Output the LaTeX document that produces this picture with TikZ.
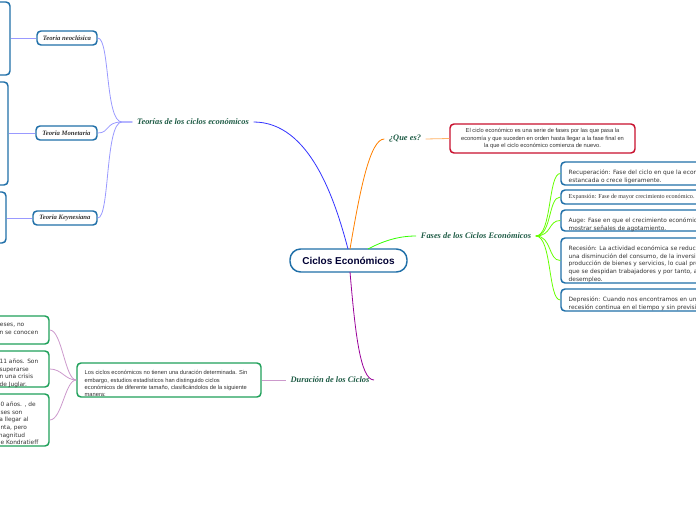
\documentclass[tikz,border=0pt]{standalone}
\usepackage{fontspec}
\setmainfont{Liberation Serif}
\newfontfamily\bxf{DejaVu Sans}
\newfontfamily\arf{Liberation Sans}
\definecolor{tblue}{HTML}{1F6FA8}
\definecolor{lgreen}{HTML}{1E5B45}
\definecolor{gbox}{HTML}{1FA05A}
\definecolor{rbox}{HTML}{C8102E}
\tikzset{
 bx/.style={draw, rounded corners=3pt, line width=1.1pt, fill=white, inner sep=2pt},
 lbl/.style={font=\bfseries\itshape\fontsize{6.3}{7}\selectfont, text=lgreen},
 tx/.style={font=\bxf\fontsize{4.4}{5.8}\selectfont, text=black!80, align=left},
 tx2/.style={font=\arf\fontsize{4.3}{5.3}\selectfont, text=black!80, align=left},
 tl/.style={font=\bfseries\itshape\fontsize{5}{5.5}\selectfont,text=black!80},
 lk/.style={line width=0.6pt},
}
\newcommand{\bxn}[6]{\node[bx,#6,minimum width={(#4-#2)*0.75pt},minimum height={(#5-#3)*0.75pt}] (#1) at ({(#2+#4)/2},{(#3+#5)/2}) {};}
\begin{document}
\begin{tikzpicture}[x=0.75pt,y=-0.75pt]
\useasboundingbox (0,0) rectangle (696,520);
\clip (0,0) rectangle (696,520);
% central
\bxn{c}{290}{249}{407}{272}{draw=tblue,rounded corners=8pt}
\node[font=\arf\bfseries\fontsize{7.5}{8}\selectfont, text=black!80!blue] at (c) {Ciclos Económicos};
% main labels
\node[lbl] (teo) at (193,122) {Teorías de los ciclos económicos};
\node[lbl] (que) at (405,139) {¿Que es?};
\node[lbl] (fas) at (476,236) {Fases de los Ciclos Económicos};
\node[lbl] (dur) at (330,380) {Duración de los Ciclos};
\coordinate (c1) at (348,249);
\coordinate (c2) at (350,249);
\coordinate (c3) at (368,249);
\coordinate (c4) at (350,272);
\coordinate (cxa) at (110,0);
\coordinate (cxb) at (548,0);
\coordinate (cxc) at (62,0);
\draw[lk,blue!80] (c1) .. controls (335,200) and (310,122) .. (teo.east);
\draw[lk,orange] (c2) .. controls (360,190) and (370,139) .. (que.west);
\draw[lk,green!80!yellow] (c3) .. controls (385,240) and (400,236) .. (fas.west);
\draw[lk,violet!80!magenta] (c4) .. controls (355,330) and (360,380) .. (dur.east);
% teorias
\bxn{tn}{37}{31}{97}{45}{draw=tblue}
\node[tl] at (tn) {Teoria neoclásica};
\bxn{tm}{36}{126}{97}{140}{draw=tblue}
\node[tl] at (tm) {Teoria Monetaria};
\bxn{tk}{33}{211}{97}{225}{draw=tblue}
\node[tl] at (tk) {Teoria Keynesiana};
\coordinate (tj) at (122,122);
\foreach \n in {tn,tm,tk} \draw[lk,blue!40] (teo.west) -- (tj) .. controls (105,122) and (cxa |- \n.east) .. (\n.east);
\bxn{l1}{-60}{2}{10}{75}{draw=tblue}
\bxn{l2}{-60}{82}{8}{185}{draw=tblue}
\bxn{l3}{-60}{192}{6}{243}{draw=tblue}
\node[tx,anchor=east] at (4,52) {n};
\node[tx,anchor=east] at (4,95) {s};
\draw[lk,blue!40] (tn.west) -- (l1.east |- tn.west);
\draw[lk,blue!40] (tm.west) -- (l2.east |- tm.west);
\draw[lk,blue!40] (tk.west) -- (l3.east |- tk.west);
% que es
\bxn{qb}{450}{124}{635}{153}{draw=rbox}
\node[tx2,align=center] at (qb) {El ciclo económico es una serie de fases por las que pasa la\\economía y que suceden en orden hasta llegar a la fase final en\\la que el ciclo económico comienza de nuevo.};
\draw[lk,orange!60] (que.east) -- (qb.west);
% fases
\bxn{f1}{561}{162}{780}{185}{draw=tblue}
\node[tx,anchor=north west] at (564,165) {Recuperación: Fase del ciclo en que la economía está\\estancada o crece ligeramente.};
\bxn{f2}{561}{190}{780}{204}{draw=tblue}
\node[font=\fontsize{4.6}{5}\selectfont,text=black!80,anchor=west] at (564,197) {Expansión: Fase de mayor crecimiento económico.};
\bxn{f3}{561}{210}{780}{231}{draw=tblue}
\node[tx,anchor=north west] at (564,213) {Auge: Fase en que el crecimiento económico empieza a\\mostrar señales de agotamiento.};
\bxn{f4}{561}{238}{780}{283}{draw=tblue}
\node[tx,anchor=north west] at (564,241) {Recesión: La actividad económica se reduce, existe\\una disminución del consumo, de la inversión y de la\\producción de bienes y servicios, lo cual provoca\\que se despidan trabajadores y por tanto, aumente el\\desempleo.};
\bxn{f5}{561}{289}{780}{311}{draw=tblue}
\node[tx,anchor=north west] at (564,292) {Depresión: Cuando nos encontramos en una\\recesión continua en el tiempo y sin previsión de mejora.};
\foreach \n in {f1,f2,f3,f4,f5} \draw[lk,green!60!yellow] (fas.east) .. controls (552,236) and (cxb |- \n.west) .. (\n.west);
% duracion
\bxn{db}{77}{363}{261}{397}{draw=gbox}
\node[tx2,anchor=north west] at (80,366) {Los ciclos económicos no tienen una duración determinada. Sin\\embargo, estudios estadísticos han distinguido ciclos\\económicos de diferente tamaño, clasificándolos de la siguiente\\manera:};
\draw[lk,violet!40] (dur.west) -- (db.east);
\bxn{d1}{-80}{316}{49}{344}{draw=gbox}
\node[tx,anchor=north east] at (43,319) {meses, no\\ién se conocen};
\bxn{d2}{-80}{351}{49}{387}{draw=gbox}
\node[tx,anchor=north east] at (43,354) {11 años. Son\\superarse\\n una crisis\\de Juglar.};
\bxn{d3}{-80}{394}{49}{446}{draw=gbox}
\node[tx,anchor=north east] at (43,397) {60 años. , de\\ases son\\ra llegar al\\enta, pero\\magnitud\\de Kondratieff};
\foreach \n in {d1,d2,d3} \draw[lk,violet!40] (db.west) .. controls (65,380) and (cxc |- \n.east) .. (\n.east);
\end{tikzpicture}
\end{document}
